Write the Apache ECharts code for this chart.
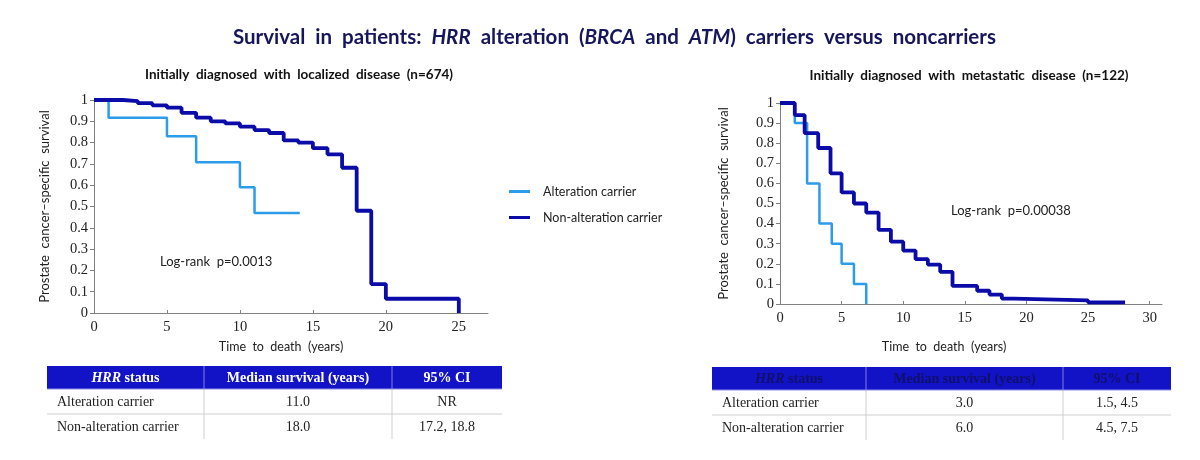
<!DOCTYPE html>
<html><head><meta charset="utf-8">
<script src="https://cdn.jsdelivr.net/npm/echarts@6/dist/echarts.min.js"></script>
<style>html,body{margin:0;padding:0;background:#fff}#c{width:1200px;height:460px}</style>
</head><body><div id="c"></div>
<script>
// ---- Data: localized disease (n=674) ----
const locAltT = [0, 1, 5, 7, 10, 11, 14.1];
const locAltS = [1, 0.917, 0.83, 0.708, 0.59, 0.47, 0.47];
const locNonT = [0, 2, 3, 4, 5, 6, 7, 8, 9, 10, 11, 12, 13, 14, 15, 16, 17, 18, 19, 20, 25];
const locNonS = [1, 0.995, 0.985, 0.975, 0.964, 0.94, 0.917, 0.90, 0.89, 0.875, 0.859, 0.845, 0.81, 0.80, 0.774, 0.745, 0.682, 0.48, 0.136, 0.067, 0];
// ---- Data: metastatic disease (n=122) ----
const metAltT = [0, 1.2, 2.2, 3.2, 4.2, 5, 6, 7];
const metAltS = [1, 0.9, 0.6, 0.4, 0.3, 0.2, 0.1, 0];
const metNonT = [0, 1.2, 2, 3.1, 4.1, 5, 6, 7, 8, 9, 10, 11, 12, 13, 14, 16, 17, 18, 19, 25, 28];
const metNonS = [1, 0.94, 0.85, 0.776, 0.65, 0.555, 0.50, 0.455, 0.369, 0.31, 0.266, 0.223, 0.196, 0.16, 0.09, 0.066, 0.047, 0.027, 0.018, 0.008, 0.008];

const seriesNames = ['Alteration carrier', 'Non-alteration carrier'];
const subtitles = ['Initially  diagnosed  with  localized  disease  (n=674)', 'Initially  diagnosed  with  metastatic  disease  (n=122)'];
const logRank = ['Log-rank  p=0.0013', 'Log-rank  p=0.00038'];
const yName = 'Prostate  cancer\u2013specific  survival';
const xName = 'Time  to  death  (years)';

// ---- Tables ----
const tableHeader = ['{hi|HRR} status', 'Median survival (years)', '95% CI'];
const locTableRows = [['Alteration carrier', '11.0', 'NR'], ['Non-alteration carrier', '18.0', '17.2, 18.8']];
const metTableRows = [['Alteration carrier', '3.0', '1.5, 4.5'], ['Non-alteration carrier', '6.0', '4.5, 7.5']];

const zip = (t, s) => t.map((v, i) => [v, s[i]]);

const LIGHT = '#2B9BEA', DARK = '#0B0BA8';
const SANS = 'Lato, "Open Sans", sans-serif';
const SERIF = '"Liberation Serif", "DejaVu Serif", serif';

function makeTable(x0, colW, top, rows, headColor) {
  const els = [];
  const hH = 23, rH = 25;
  const totalW = colW.reduce((a, b) => a + b, 0);
  els.push({type: 'rect', shape: {x: x0, y: top, width: totalW, height: hH}, style: {fill: '#1212C6'}});
  let cx = x0;
  colW.forEach((w, i) => {
    if (i > 0) {
      els.push({type: 'line', shape: {x1: cx, y1: top, x2: cx, y2: top + hH}, style: {stroke: 'rgba(200,200,255,0.6)', lineWidth: 1}});
      els.push({type: 'line', shape: {x1: cx, y1: top + hH, x2: cx, y2: top + hH + rH * rows.length}, style: {stroke: '#cfcfcf', lineWidth: 1}});
    }
    els.push({type: 'text', style: {
      x: cx + w / 2, y: top + hH / 2 + 1, text: tableHeader[i], textAlign: 'center', textVerticalAlign: 'middle',
      align: 'center', verticalAlign: 'middle',
      font: 'bold 14px ' + SERIF, fill: headColor,
      rich: {hi: {font: 'italic bold 14px ' + SERIF, fill: headColor}}
    }});
    rows.forEach((r, j) => {
      const y = top + hH + rH * j + rH / 2 + 1;
      const left = i === 0;
      els.push({type: 'text', style: {
        x: left ? cx + 10 : cx + w / 2, y: y, text: r[i],
        textAlign: left ? 'left' : 'center', align: left ? 'left' : 'center',
        textVerticalAlign: 'middle', verticalAlign: 'middle',
        font: '14px ' + SERIF, fill: '#222'
      }});
    });
    cx += w;
  });
  els.push({type: 'line', shape: {x1: x0, y1: top + hH + rH, x2: x0 + totalW, y2: top + hH + rH}, style: {stroke: '#cfcfcf', lineWidth: 1}});
  els.push({type: 'line', shape: {x1: x0, y1: top + hH, x2: x0 + totalW, y2: top + hH}, style: {stroke: '#8f8fe6', lineWidth: 1}});
  return els;
}

function xAxisCfg(gi, max, gap, padR) {
  return {
    gridIndex: gi, type: 'value', min: 0, max: max, interval: 5,
    axisLine: {lineStyle: {color: '#808080', width: 1}},
    axisTick: {inside: true, length: 3, lineStyle: {color: '#808080'}},
    axisLabel: {showMaxLabel: false, color: '#222', fontFamily: SERIF, fontSize: 14.5, margin: 7},
    splitLine: {show: false},
    name: xName, nameLocation: 'middle', nameGap: gap,
    nameTextStyle: {fontFamily: SANS, fontSize: 12.5, color: '#222', padding: [0, padR, 0, 0]}
  };
}
function yAxisCfg(gi, gap) {
  return {
    gridIndex: gi, type: 'value', min: 0, max: 1, interval: 0.1,
    axisLine: {show: true, lineStyle: {color: '#808080', width: 1}},
    axisTick: {show: true, length: 4, lineStyle: {color: '#808080'}},
    axisLabel: {color: '#222', fontFamily: SERIF, fontSize: 14.5, margin: 6},
    splitLine: {show: false},
    name: yName, nameLocation: 'middle', nameGap: gap,
    nameTextStyle: {fontFamily: SANS, fontSize: 13, color: '#222'}
  };
}
function lineSeries(name, gi, data, color, width) {
  return {
    name: name, type: 'line', xAxisIndex: gi, yAxisIndex: gi, data: data, step: 'end',
    showSymbol: false, symbol: 'none', color: color,
    lineStyle: {color: color, width: width}, z: name === seriesNames[1] ? 3 : 2
  };
}

const chart = echarts.init(document.getElementById('c'));
chart.setOption({
  animation: false,
  backgroundColor: '#fff',
  title: [
    {text: '{b|Survival  in  patients:  }{bi|HRR}{b|  alteration  (}{bi|BRCA}{b|  and  }{bi|ATM}{b|)  carriers  versus  noncarriers}',
     left: 228, top: 22,
     textStyle: {rich: {
       b: {fontFamily: SANS, fontWeight: 'bold', fontSize: 20.5, color: '#16165C'},
       bi: {fontFamily: SANS, fontWeight: 'bold', fontStyle: 'italic', fontSize: 20.5, color: '#16165C'}
     }}},
    {text: subtitles[0], left: 294, top: 63, textAlign: 'center',
     textStyle: {fontFamily: SANS, fontWeight: 'bold', fontSize: 13.5, color: '#111'}},
    {text: subtitles[1], left: 964, top: 64, textAlign: 'center',
     textStyle: {fontFamily: SANS, fontWeight: 'bold', fontSize: 13.5, color: '#111'}}
  ],
  legend: {
    orient: 'vertical', left: 504, top: 180, itemWidth: 21, itemHeight: 3, itemGap: 13,
    icon: 'rect', data: seriesNames,
    textStyle: {fontFamily: SANS, fontSize: 12.5, color: '#222', padding: [0, 0, 0, 8]}
  },
  grid: [
    {left: 94, top: 100, width: 394, height: 213},
    {left: 780, top: 103, width: 382, height: 201}
  ],
  xAxis: [xAxisCfg(0, 27, 27, 20), xAxisCfg(1, 31, 36, 54)],
  yAxis: [yAxisCfg(0, 43), yAxisCfg(1, 50)],
  series: [
    lineSeries(seriesNames[0], 0, zip(locAltT, locAltS), LIGHT, 2.5),
    lineSeries(seriesNames[1], 0, zip(locNonT, locNonS), DARK, 3.8),
    lineSeries(seriesNames[0], 1, zip(metAltT, metAltS), LIGHT, 2.5),
    lineSeries(seriesNames[1], 1, zip(metNonT, metNonS), DARK, 3.8)
  ],
  graphic: [
    {type: 'text', style: {x: 160, y: 262, text: logRank[0], textVerticalAlign: 'middle', verticalAlign: 'middle', font: '13px ' + SANS, fill: '#222'}},
    {type: 'text', style: {x: 951, y: 211, text: logRank[1], textVerticalAlign: 'middle', verticalAlign: 'middle', font: '13px ' + SANS, fill: '#222'}}
  ].concat(makeTable(47, [157, 188, 110], 366, locTableRows, '#fff'))
   .concat(makeTable(712, [154, 197, 108], 367, metTableRows, '#10106A'))
});
</script>
</body></html>
